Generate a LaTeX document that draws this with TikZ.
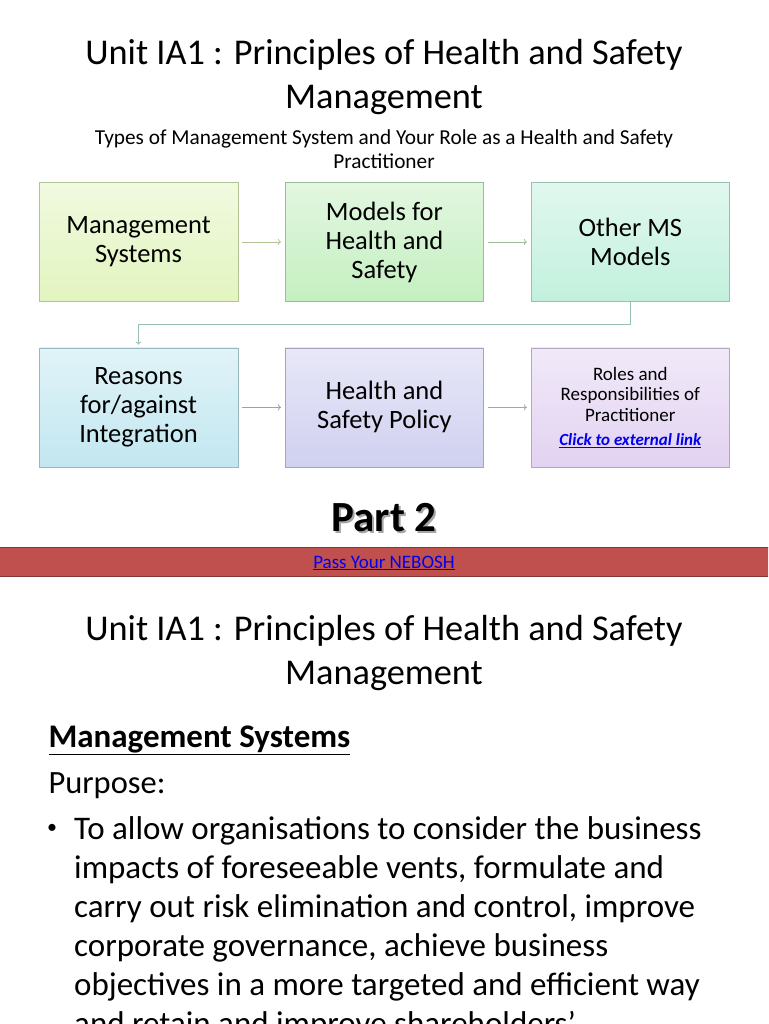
\documentclass[tikz,border=0pt]{standalone}
\usepackage{fontspec}
\setmainfont{Carlito}
\usetikzlibrary{positioning, arrows.meta}
\definecolor{barred}{HTML}{C0504D}
\definecolor{linkblue}{HTML}{0000EE}
\definecolor{mscol}{HTML}{D6F0A4}
\definecolor{modcol}{HTML}{ACE8A6}
\definecolor{othcol}{HTML}{A8EACF}
\definecolor{reacol}{HTML}{A8DDEA}
\definecolor{polcol}{HTML}{BCBCEA}
\definecolor{rolcol}{HTML}{D6C0EC}
\tikzset{title/.style={align=center, font=\fontsize{36.3}{44}\selectfont}}
\tikzset{stepbox/.style={draw=#1!60!gray, top color=#1!35!white, bottom color=#1!70!white, minimum width=198.5pt, minimum height=119pt, inner sep=0pt, align=center, font=\fontsize{26.5}{29}\selectfont}}
\tikzset{link/.style={line width=0.8pt, shorten <=4pt, shorten >=4pt, -{To[length=3pt, width=6pt]}}}
\newcommand{\weblink}[1]{\textcolor{linkblue}{\underline{#1}}}

\begin{document}
\begin{tikzpicture}[x=1pt, y=-1pt]
  \useasboundingbox (0,0) rectangle (768,1024);
  \clip (0,0) rectangle (768,1024);
  % first slide
  \node[title] (head) at (384,77.5) {Unit IA1 : Principles of Health and Safety\\Management};
  \node[align=center, font=\fontsize{21.3}{24}\selectfont] (sub) at (384,149) {Types of Management System and Your Role as a Health and Safety\\Practitioner};
  \node[stepbox=mscol] (ms) at (138.5,242) {Management\\Systems};
  \node[stepbox=modcol, right=47pt of ms] (models) {Models for\\Health and\\Safety};
  \node[stepbox=othcol, right=47pt of models] (other) {Other MS\\Models};
  \node[stepbox=reacol, below=46pt of ms] (reasons) {Reasons\\for/against\\Integration};
  \node[stepbox=polcol, right=47pt of reasons] (policy) {Health and\\Safety Policy};
  \node[stepbox=rolcol, right=47pt of policy, font=\fontsize{19}{20.5}\selectfont] (roles) {Roles and\\Responsibilities of\\Practitioner\\[4pt]\fontsize{17}{20}\selectfont\textcolor{linkblue}{\textbf{\textit{\underline{Click to external link}}}}};
  \draw[link, mscol!60!gray] (ms) -- (models);
  \draw[link, modcol!60!gray] (models) -- (other);
  \draw[line width=0.8pt, othcol!60!gray, -{To[length=3pt, width=6pt]}, shorten >=3pt] (other.south) -- ++(0,23) -| (reasons.north);
  \draw[link, polcol!50!gray] (reasons) -- (policy);
  \draw[link, rolcol!50!gray] (policy) -- (roles);
  \node[font=\fontsize{43}{50}\selectfont\bfseries, text=black!35] (partshadow) at (386,520) {Part 2};
  \node[font=\fontsize{43}{50}\selectfont\bfseries] (part) at (384,518) {Part 2};
  \draw[fill=barred, draw=barred!70!black] (-1,547) rectangle (769,576);
  \node[font=\fontsize{19}{22}\selectfont] (nebosh) at (384,563) {\weblink{Pass Your NEBOSH}};
  % second slide
  \node[title] (head2) at (384,653) {Unit IA1 : Principles of Health and Safety\\Management};
  \node[anchor=west, font=\fontsize{33}{39}\selectfont\bfseries] (mstitle) at (45,740) {\underline{Management Systems}};
  \node[anchor=west, font=\fontsize{32.5}{39}\selectfont] (purpose) at (45,786) {Purpose:};
  \node[font=\fontsize{20}{24}\selectfont] (bullet) at (52,829) {\textbullet};
  \node[anchor=north west, align=left, inner sep=0pt, font=\fontsize{33}{39}\selectfont] (aim) at (74,816) {To allow organisations to consider the business\\impacts of foreseeable vents, formulate and\\carry out risk elimination and control, improve\\corporate governance, achieve business\\objectives in a more targeted and efficient way\\and retain and improve shareholders'};
\end{tikzpicture}
\end{document}
